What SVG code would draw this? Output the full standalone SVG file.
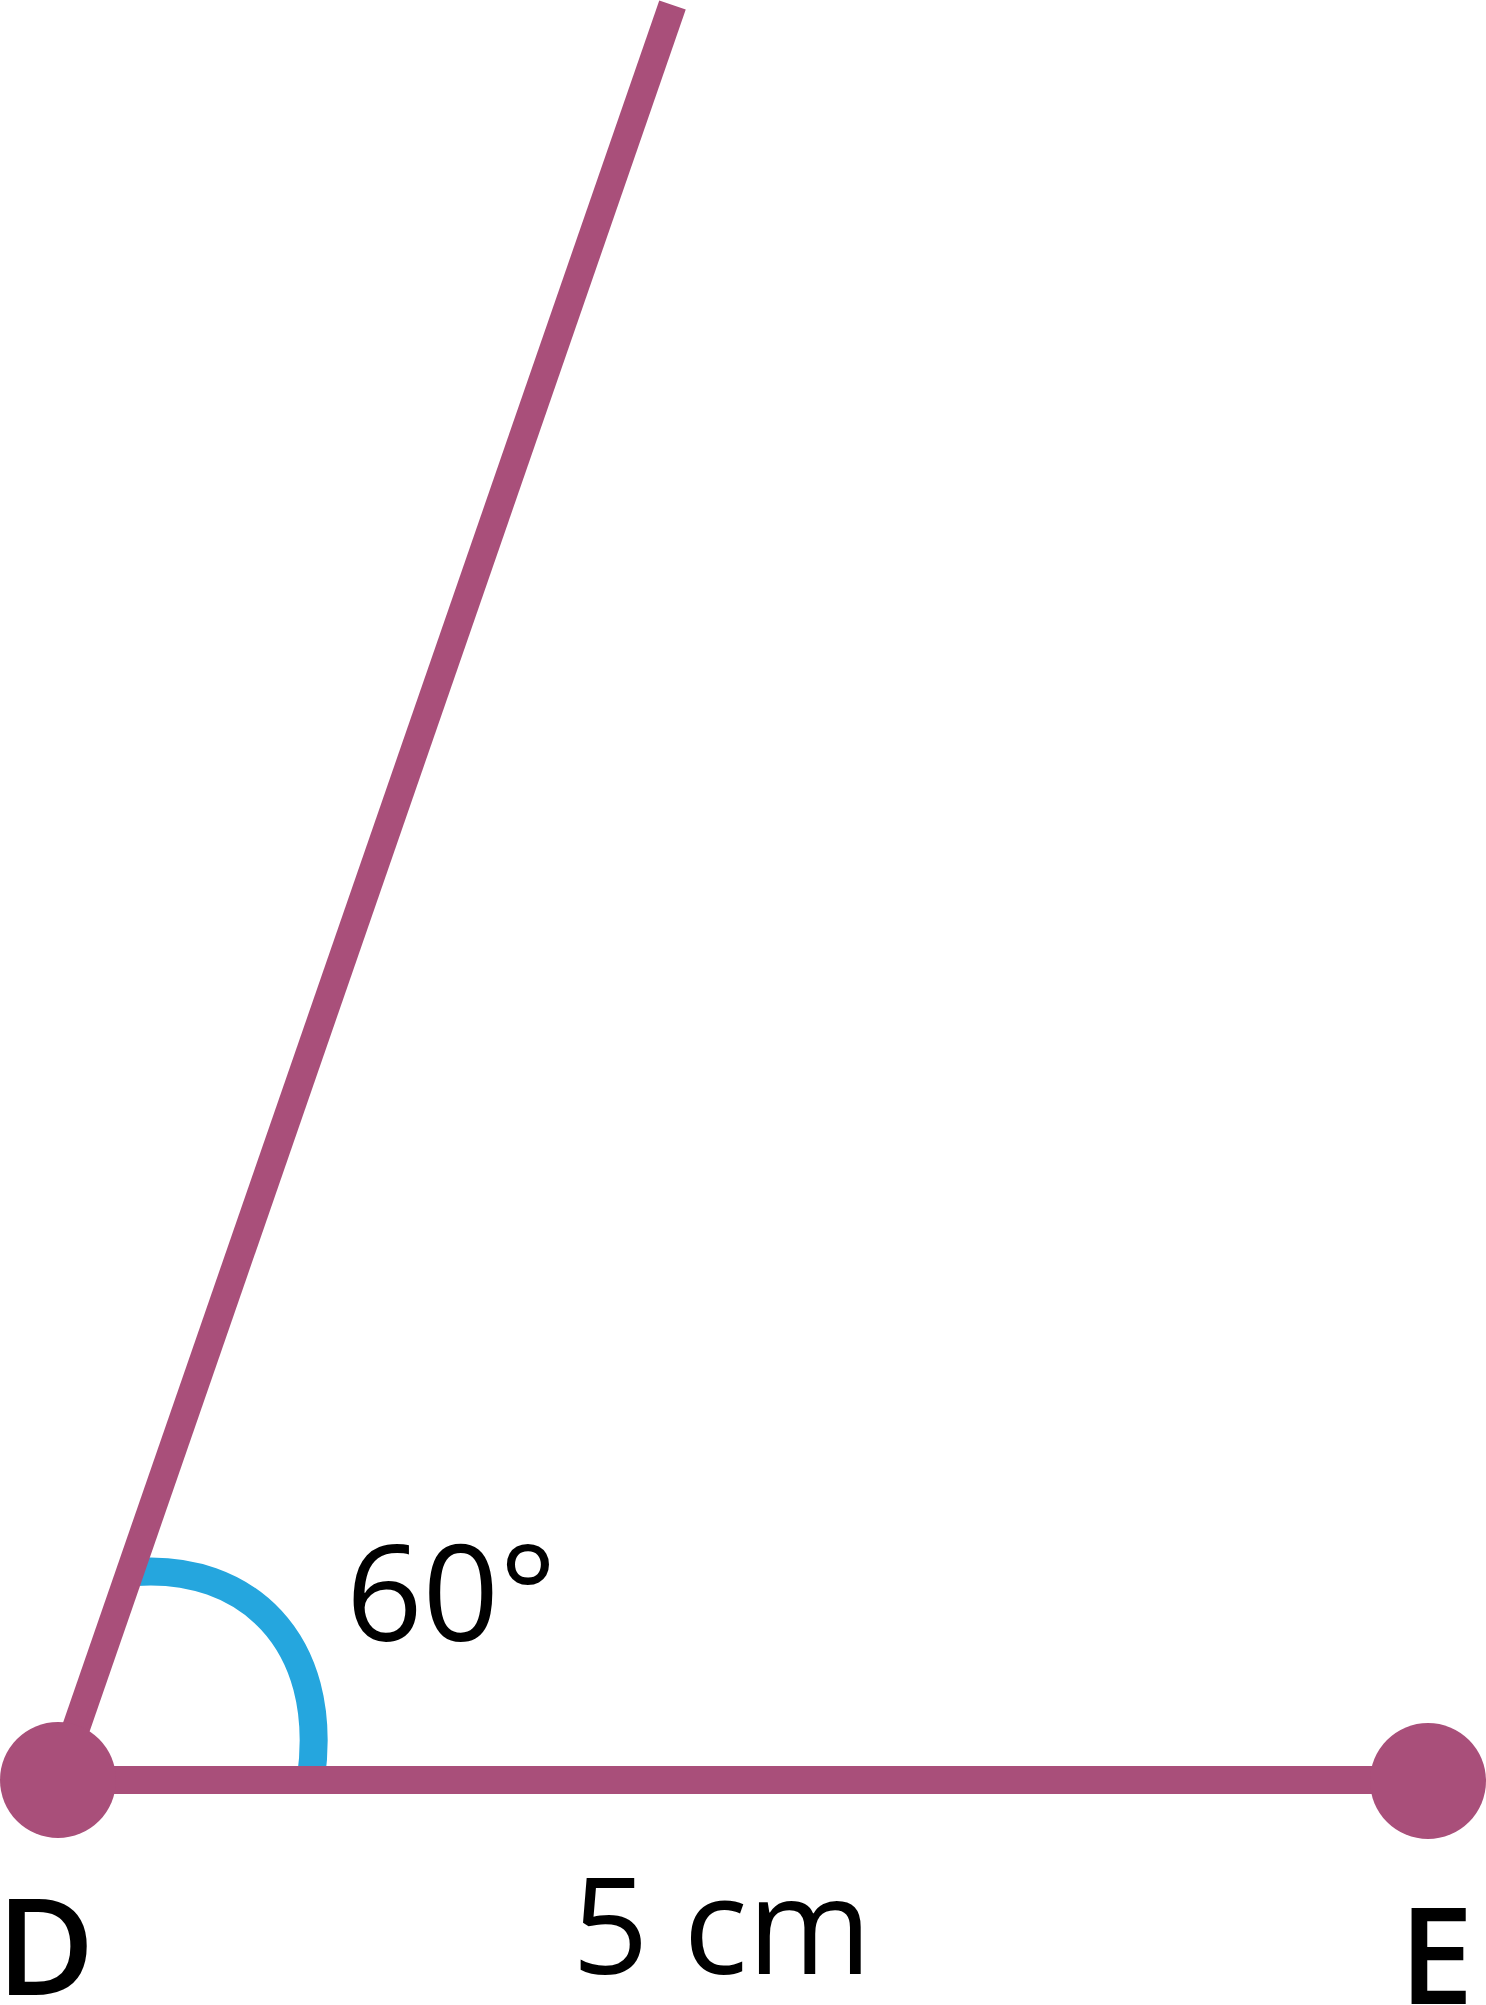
<svg xmlns="http://www.w3.org/2000/svg" width="1486" height="2005" viewBox="0 0 1486 2005">
<style>
.seg{stroke:#a94f7a;stroke-width:28;fill:none;stroke-linecap:butt}
.pt{fill:#a94f7a}
.arc{stroke:#25a6de;stroke-width:28;fill:none}
.lbl{font-family:"Open Sans","Liberation Sans",sans-serif;font-size:134px;fill:#000}
.bold{font-weight:600}
</style>
<rect width="1486" height="2005" fill="#fff"/>
<g id="angle-mark">
<path class="arc" d="M 135 1572 C 245 1564, 330 1640, 311 1778"/>
</g>
<g id="connectors">
<line class="seg" x1="58" y1="1780" x2="1428" y2="1780"/>
<line class="seg" x1="58" y1="1780" x2="672.5" y2="5"/>
</g>
<g id="D">
<circle class="pt" cx="58" cy="1780" r="58"/>
<text class="lbl bold" x="-3.5" y="1995">D</text>
</g>
<g id="E">
<circle class="pt" cx="1428" cy="1781" r="58"/>
<text class="lbl bold" x="1399" y="2004">E</text>
</g>
<g id="labels">
<text class="lbl" x="346" y="1641">60°</text>
<text class="lbl" x="572" y="1974">5 cm</text>
</g>
</svg>
